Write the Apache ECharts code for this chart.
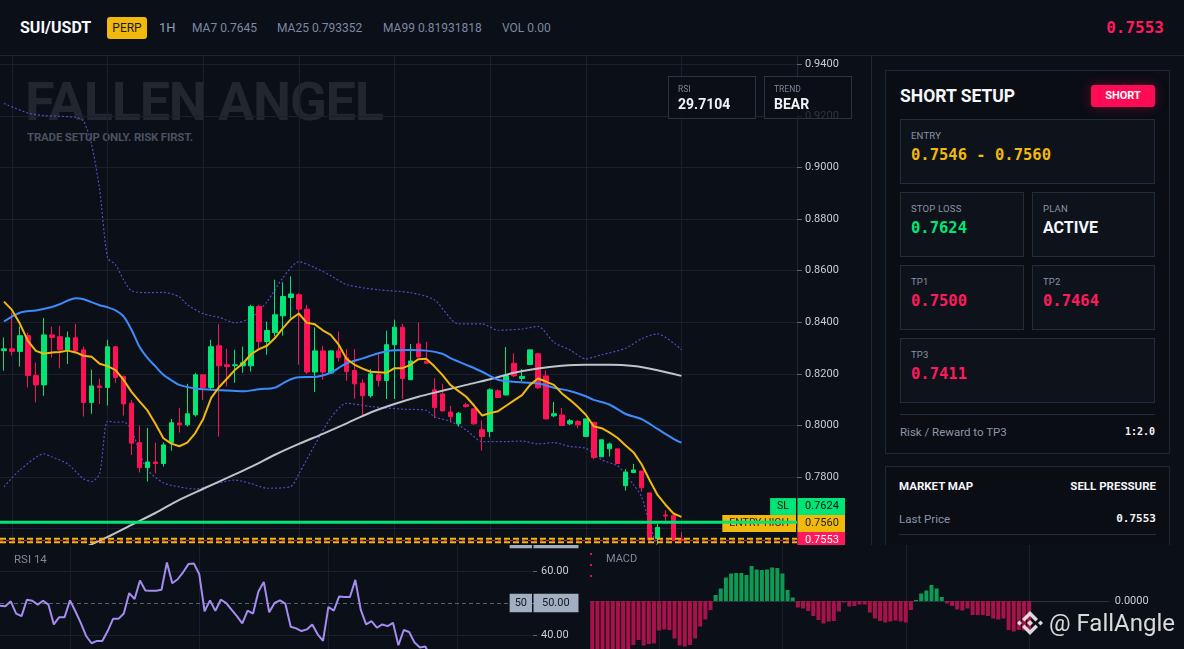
<!DOCTYPE html>
<html>
<head>
<meta charset="utf-8">
<title>SUI/USDT</title>
<script src="https://cdn.jsdelivr.net/npm/echarts@6.0.0/dist/echarts.min.js"></script>
<style>
*{box-sizing:border-box}
html,body{margin:0;padding:0;width:1184px;height:649px;overflow:hidden;background:#0b0f17;font-family:Roboto,'Liberation Sans',Arial,sans-serif;color:#e8ecf2}
.a{position:absolute;white-space:nowrap}
.mono{font-family:'DejaVu Sans Mono','Liberation Mono',monospace;font-weight:bold}
.lbl{font-size:9.5px;line-height:14px;color:#8a94a6;letter-spacing:.2px}
.box{position:absolute;border:1px solid #232c3b;background:#0d121b}
.hm{font-size:12px;line-height:20px;top:17.5px;color:#7b89a2}
.val{font-size:15.5px;line-height:20px}
</style>
</head>
<body>
<!-- header -->
<div class="a" style="left:0;top:0;width:1184px;height:56px;border-bottom:1px solid #1e2533;background:#0b0f17;z-index:5">
  <span class="a" style="left:20px;top:17.5px;line-height:20px;font-size:16px;font-weight:bold;color:#f7f9fc">SUI/USDT</span>
  <span class="a" style="left:107px;top:17px;width:40px;height:22px;line-height:22px;text-align:center;background:#f0b90b;border-radius:3px;font-size:12px;color:#1a1c22">PERP</span>
  <span class="a" style="left:159px;top:17.5px;line-height:20px;font-size:13px;color:#8fa0bd">1H</span>
  <span class="a hm" style="left:192px">MA7 0.7645</span>
  <span class="a hm" style="left:277px">MA25 0.793352</span>
  <span class="a hm" style="left:383px">MA99 0.81931818</span>
  <span class="a hm" style="left:502px">VOL 0.00</span>
  <span class="a mono" style="right:20px;top:18px;line-height:20px;font-size:16px;color:#ff1a5e">0.7553</span>
</div>

<!-- main chart -->
<div class="a" style="left:0;top:56px;width:872px;height:489px;overflow:hidden;border-right:1px solid #1e2533">
  <div class="a" style="left:25px;top:19px;font-size:54px;line-height:54px;font-weight:bold;color:#22272f;letter-spacing:-1.2px">FALLEN ANGEL</div>
  <div class="a" style="left:27px;top:74px;font-size:11.5px;line-height:14px;font-weight:bold;color:#4a5160;letter-spacing:-0.2px">TRADE SETUP ONLY. RISK FIRST.</div>
  <div id="main" class="a" style="left:0;top:-43px;width:871px;height:567px"></div>
</div>

<!-- stat boxes -->
<div class="a" style="left:668px;top:76px;width:88px;height:43px;border:1px solid #2a3344;background:rgba(11,15,23,0.82);z-index:3">
  <span class="a" style="left:9px;top:7px;font-size:8.5px;line-height:10px;color:#7b8595">RSI</span>
  <span class="a" style="left:9px;top:18px;font-size:14px;line-height:18px;font-weight:bold;color:#eef1f6">29.7104</span>
</div>
<div class="a" style="left:764px;top:76px;width:88px;height:43px;border:1px solid #2a3344;background:rgba(11,15,23,0.82);z-index:3">
  <span class="a" style="left:9px;top:7px;font-size:8.5px;line-height:10px;color:#7b8595">TREND</span>
  <span class="a" style="left:9px;top:18px;font-size:14px;line-height:18px;font-weight:bold;color:#eef1f6">BEAR</span>
</div>

<!-- right panel -->
<div class="a" style="left:885px;top:70px;width:285px;height:384px;border:1px solid #1f2836;background:#0a0d14"></div>
<div class="a" style="left:900px;top:86px;font-size:17.5px;line-height:20px;font-weight:bold;color:#f5f7fb">SHORT SETUP</div>
<div class="a" style="left:1091px;top:85px;width:64px;height:22px;line-height:22px;text-align:center;background:#ff0a54;border-radius:3px;font-size:11px;font-weight:bold;color:#fff;box-shadow:0 0 12px rgba(255,10,84,.35)">SHORT</div>

<div class="box" style="left:900px;top:119px;width:255px;height:65px"></div>
<div class="a lbl" style="left:911px;top:128.5px">ENTRY</div>
<div class="a mono val" style="left:911px;top:145px;color:#f0b90b">0.7546 - 0.7560</div>

<div class="box" style="left:900px;top:192px;width:124px;height:65px"></div>
<div class="a lbl" style="left:911px;top:201.5px">STOP LOSS</div>
<div class="a mono val" style="left:911px;top:218px;color:#00e676">0.7624</div>
<div class="box" style="left:1032px;top:192px;width:123px;height:65px"></div>
<div class="a lbl" style="left:1043px;top:201.5px">PLAN</div>
<div class="a" style="left:1043px;top:218px;font-size:16px;line-height:20px;font-weight:bold;color:#f3f5f9">ACTIVE</div>

<div class="box" style="left:900px;top:265px;width:124px;height:65px"></div>
<div class="a lbl" style="left:911px;top:274.5px">TP1</div>
<div class="a mono val" style="left:911px;top:291px;color:#ff1a5e">0.7500</div>
<div class="box" style="left:1032px;top:265px;width:123px;height:65px"></div>
<div class="a lbl" style="left:1043px;top:274.5px">TP2</div>
<div class="a mono val" style="left:1043px;top:291px;color:#ff1a5e">0.7464</div>

<div class="box" style="left:900px;top:338px;width:255px;height:65px"></div>
<div class="a lbl" style="left:911px;top:347.5px">TP3</div>
<div class="a mono val" style="left:911px;top:364px;color:#ff1a5e">0.7411</div>

<div class="a" style="left:900px;top:414px;width:255px;height:1px;background:#232c3b"></div>
<div class="a" style="left:900px;top:424px;font-size:11.5px;line-height:16px;color:#8b96a8">Risk / Reward to TP3</div>
<div class="a mono" style="right:29px;top:424px;font-size:10px;line-height:16px;color:#f1f3f7">1:2.0</div>

<div class="a" style="left:885px;top:466px;width:285px;height:110px;border:1px solid #1f2836;background:#0a0d14"></div>
<div class="a" style="left:899px;top:478px;font-size:11.5px;line-height:16px;font-weight:bold;color:#f3f5f9">MARKET MAP</div>
<div class="a" style="right:28px;top:478px;font-size:11.5px;line-height:16px;font-weight:bold;color:#f3f5f9">SELL PRESSURE</div>
<div class="a" style="left:899px;top:510.5px;font-size:11.5px;line-height:16px;color:#8b96a8">Last Price</div>
<div class="a mono" style="right:28px;top:510.5px;font-size:11px;line-height:16px;color:#f1f3f7">0.7553</div>
<div class="a" style="left:899px;top:534px;width:257px;height:1px;background:#232c3b"></div>

<!-- lower panels -->
<div class="a" style="left:0;top:545px;width:586px;height:104px;overflow:hidden;background:#0b0f17;z-index:4">
  <div id="rsi" class="a" style="left:0;top:-6px;width:586px;height:128px"></div>
</div>
<div class="a" style="left:14px;top:552px;font-size:11.5px;line-height:14px;color:#7f8898;z-index:6">RSI 14</div>

<div class="a" style="left:585px;top:545px;width:599px;height:104px;overflow:hidden;background:#0b0f17;z-index:4">
  <div id="macd" class="a" style="left:0;top:0;width:599px;height:104px"></div>
</div>
<div class="a" style="left:606px;top:552px;font-size:11px;line-height:14px;color:#7f8898;z-index:6">MACD</div>
<div class="a" style="left:590px;top:553px;width:2px;height:26px;background:repeating-linear-gradient(to bottom,#d8185a 0 2px,transparent 2px 11px);z-index:6"></div>

<!-- signature -->
<svg class="a" style="left:1016px;top:609px;z-index:7" width="28" height="28" viewBox="0 0 28 28">
  <g fill="rgba(236,236,236,0.92)">
    <polygon points="14,2 22,10 19.5,12.5 14,7 8.5,12.5 6,10"/>
    <polygon points="14,26 22,18 19.5,15.5 14,21 8.5,15.5 6,18"/>
    <polygon points="3.5,11.5 6,14 3.5,16.5 1,14"/>
    <polygon points="24.5,11.5 27,14 24.5,16.5 22,14"/>
    <polygon points="14,11 17,14 14,17 11,14"/>
  </g>
</svg>
<div class="a" style="left:1049px;top:609px;font-size:24px;line-height:28px;color:rgba(236,236,236,0.92);z-index:7">@ FallAngle</div>

<script>
// ================= DATA =================
// candles: [open, close, low, high]
const ohlc = [
 [0.8290,0.8297,0.8212,0.8341],[0.8297,0.8287,0.8271,0.8437],[0.8287,0.8348,0.8228,0.8384],[0.8348,0.8193,0.8147,0.8359],
 [0.8193,0.8157,0.8089,0.8244],[0.8157,0.8351,0.8115,0.8417],[0.8351,0.8341,0.8263,0.8383],[0.8344,0.8293,0.8221,0.8386],
 [0.8293,0.8340,0.8238,0.8364],[0.8340,0.8289,0.8287,0.8394],[0.8293,0.8089,0.8034,0.8306],[0.8089,0.8153,0.8045,0.8216],
 [0.8153,0.8147,0.8083,0.8181],[0.8147,0.8305,0.8077,0.8332],[0.8305,0.8186,0.8165,0.8308],[0.8190,0.8083,0.8038,0.8193],
 [0.8086,0.7931,0.7885,0.8099],[0.7933,0.7836,0.7817,0.7999],[0.7836,0.7858,0.7782,0.7990],[0.7858,0.7852,0.7814,0.7933],
 [0.7852,0.7924,0.7840,0.7934],[0.7933,0.8010,0.7902,0.8025],[0.8009,0.8002,0.7972,0.8068],[0.8002,0.8045,0.7995,0.8161],
 [0.8041,0.8196,0.8034,0.8204],[0.8196,0.8147,0.8099,0.8198],[0.8147,0.8305,0.8138,0.8332],[0.8309,0.8231,0.7956,0.8394],
 [0.8235,0.8228,0.8151,0.8297],[0.8232,0.8235,0.8165,0.8293],[0.8231,0.8243,0.8204,0.8305],[0.8231,0.8461,0.8209,0.8468],
 [0.8461,0.8325,0.8297,0.8468],[0.8325,0.8368,0.8274,0.8403],[0.8360,0.8429,0.8345,0.8565],[0.8425,0.8500,0.8348,0.8555],
 [0.8496,0.8510,0.8416,0.8578],[0.8507,0.8451,0.8235,0.8513],[0.8451,0.8207,0.8200,0.8468],[0.8207,0.8289,0.8129,0.8380],
 [0.8289,0.8207,0.8177,0.8308],[0.8203,0.8289,0.8201,0.8291],[0.8289,0.8263,0.8248,0.8364],[0.8263,0.8209,0.8173,0.8296],
 [0.8213,0.8161,0.8103,0.8296],[0.8164,0.8115,0.8037,0.8179],[0.8115,0.8200,0.8108,0.8218],[0.8196,0.8174,0.8151,0.8280],
 [0.8174,0.8313,0.8102,0.8367],[0.8313,0.8381,0.8102,0.8410],[0.8381,0.8182,0.8102,0.8394],[0.8177,0.8250,0.8177,0.8316],
 [0.8316,0.8265,0.8265,0.8399],[0.8249,0.8241,0.8241,0.8324],[0.8138,0.8069,0.8028,0.8183],[0.8122,0.8056,0.8054,0.8161],
 [0.8052,0.8034,0.8011,0.8076],[0.8006,0.8047,0.7995,0.8052],[0.8080,0.8073,0.8069,0.8088],[0.8064,0.8006,0.8002,0.8064],
 [0.7983,0.7957,0.7902,0.8019],[0.7976,0.8138,0.7954,0.8144],[0.8134,0.8108,0.8108,0.8140],[0.8118,0.8193,0.8118,0.8304],
 [0.8241,0.8192,0.8187,0.8280],[0.8182,0.8190,0.8172,0.8218],[0.8236,0.8293,0.8236,0.8293],[0.8278,0.8146,0.8141,0.8278],
 [0.8192,0.8025,0.8024,0.8213],[0.8037,0.8045,0.8032,0.8091],[0.8040,0.7999,0.7999,0.8068],[0.8006,0.8018,0.8001,0.8025],
 [0.8015,0.8002,0.7989,0.8021],[0.7957,0.8025,0.7957,0.8025],[0.8012,0.7875,0.7869,0.8012],[0.7878,0.7944,0.7878,0.7944],
 [0.7909,0.7928,0.7879,0.7933],[0.7909,0.7852,0.7852,0.7909],[0.7766,0.7819,0.7747,0.7830],[0.7817,0.7827,0.7817,0.7850],
 [0.7823,0.7758,0.7743,0.7823],[0.7738,0.7557,0.7545,0.7738],[0.7560,0.7604,0.7540,0.7617],[0.7652,0.7648,0.7620,0.7671],
 [0.7650,0.7555,0.7553,0.7650],[0.7559,0.7553,0.7545,0.7586]
];
const ma7 = [
 0.8480,0.8448,0.8394,0.8328,0.8289,0.8278,0.8283,0.8285,0.8290,0.8283,
 0.8270,0.8266,0.8239,0.8230,0.8214,0.8177,0.8130,0.8093,0.8058,0.8006,
 0.7950,0.7929,0.7919,0.7933,0.7970,0.8025,0.8107,0.8149,0.8182,0.8216,
 0.8241,0.8276,0.8296,0.8309,0.8339,0.8377,0.8412,0.8434,0.8398,0.8392,
 0.8369,0.8351,0.8313,0.8257,0.8235,0.8220,0.8208,0.8206,0.8204,0.8222,
 0.8222,0.8235,0.8257,0.8258,0.8229,0.8196,0.8157,0.8134,0.8111,0.8076,
 0.8038,0.8048,0.8055,0.8076,0.8097,0.8117,0.8157,0.8182,0.8170,0.8157,
 0.8124,0.8099,0.8072,0.8041,0.7996,0.7989,0.7972,0.7951,0.7922,0.7895,
 0.7849,0.7788,0.7730,0.7692,0.7658,0.7645
];
// [candle index, value]
const ma25Pts = [[0,0.8403],[2,0.8437],[4,0.8446],[6,0.8459],[7,0.8470],[9,0.8493],[10,0.8489],[12,0.8466],[13,0.8458],[14,0.8446],
 [15,0.8423],[16,0.8371],[17,0.8305],[18,0.8262],[19,0.8229],[20,0.8196],[21,0.8175],[22,0.8157],[24,0.8143],[26,0.8138],
 [28,0.8135],[30,0.8132],[32,0.8140],[34,0.8146],[35,0.8163],[36,0.8179],[37,0.8187],[39,0.8188],[41,0.8204],[42,0.8223],
 [43,0.8241],[45,0.8260],[47,0.8280],[49,0.8291],[51,0.8292],[53,0.8290],[55,0.8278],[56,0.8261],[58,0.8235],[60,0.8208],
 [62,0.8177],[64,0.8169],[67,0.8162],[69,0.8146],[71,0.8133],[73,0.8113],[74,0.8099],[76,0.8080],[78,0.8044],[80,0.8024],
 [82,0.7986],[84,0.7948],[85,0.7933]];
const ma99Pts = [[10,0.7524],[13,0.7567],[16,0.7614],[19,0.7660],[22,0.7711],[25,0.7754],[28,0.7796],[31,0.7839],[34,0.7886],
 [37,0.7928],[40,0.7967],[43,0.8008],[46,0.8050],[49,0.8083],[52,0.8111],[55,0.8134],[58,0.8157],[61,0.8179],[64,0.8204],
 [67,0.8221],[70,0.8231],[73,0.8235],[76,0.8235],[79,0.8230],[82,0.8214],[85,0.8192]];
const bbUpperPts = [[0,0.9249],[3,0.9212],[5,0.9202],[9,0.9195],[10,0.9180],[11,0.9089],[12,0.8915],[13,0.8650],[14,0.8623],
 [15,0.8565],[16,0.8522],[18,0.8515],[20,0.8516],[22,0.8499],[23,0.8468],[25,0.8433],[27,0.8419],[29,0.8398],[31,0.8417],
 [33,0.8480],[35,0.8573],[37,0.8635],[39,0.8612],[41,0.8581],[43,0.8546],[47,0.8526],[51,0.8515],[54,0.8487],[57,0.8394],
 [60,0.8394],[62,0.8369],[65,0.8374],[67,0.8384],[69,0.8322],[71,0.8293],[73,0.8258],[75,0.8274],[78,0.8299],[80,0.8336],
 [82,0.8355],[84,0.8320],[85,0.8293]];
const bbLowerPts = [[0,0.7761],[1,0.7796],[2,0.7827],[5,0.7889],[6,0.7878],[8,0.7850],[10,0.7792],[11,0.7782],[12,0.7812],
 [13,0.8017],[14,0.8012],[15,0.8014],[16,0.7982],[17,0.7897],[18,0.7827],[20,0.7777],[22,0.7761],[24,0.7753],[27,0.7777],
 [29,0.7788],[31,0.7774],[33,0.7756],[36,0.7763],[37,0.7812],[39,0.7924],[41,0.8029],[43,0.8086],[46,0.8073],[50,0.8063],
 [53,0.8058],[54,0.8033],[56,0.8016],[58,0.7982],[60,0.7937],[63,0.7937],[65,0.7939],[67,0.7928],[69,0.7933],[71,0.7918],
 [73,0.7911],[75,0.7866],[77,0.7843],[78,0.7808],[79,0.7769],[80,0.7723],[81,0.7617],[82,0.7528],[83,0.7478],[85,0.7420]];
const rsi14 = [
 49.18,48.97,50.52,46.70,45.88,51.03,50.72,49.48,50.72,49.48,
 43.30,45.57,45.57,50.82,47.42,43.81,39.69,37.42,38.14,38.14,
 41.24,45.05,45.05,46.70,53.09,51.24,57.01,53.92,53.81,53.81,
 54.12,62.68,56.19,57.42,59.59,62.16,62.37,59.07,47.42,50.82,
 47.53,51.03,50.00,47.94,45.88,43.61,47.63,46.70,53.61,56.60,
 47.11,50.00,50.82,49.79,42.58,42.06,41.24,41.75,43.30,40.21,
 38.14,48.76,47.63,52.06,51.86,51.86,57.22,47.94,43.30,44.33,
 42.27,43.30,42.78,43.81,36.80,41.55,40.93,37.63,36.08,36.39,
 33.10,30.20,32.40,33.00,30.60,29.71
];
const macdHist = [
 -0.00116,-0.00120,-0.00122,-0.00120,-0.00114,-0.00110,-0.00104,-0.00100,-0.00088,-0.00078,
 -0.00089,-0.00086,-0.00085,-0.00059,-0.00057,-0.00058,-0.00075,-0.00089,-0.00091,-0.00088,
 -0.00075,-0.00051,-0.00037,-0.00018,0.00012,0.00025,0.00047,0.00055,0.00056,0.00056,
 0.00052,0.00070,0.00063,0.00062,0.00063,0.00067,0.00066,0.00055,0.00022,0.00007,
 -0.00013,-0.00015,-0.00020,-0.00030,-0.00038,-0.00045,-0.00041,-0.00040,-0.00021,-0.00003,
 -0.00011,-0.00010,-0.00007,-0.00007,-0.00023,-0.00035,-0.00040,-0.00043,-0.00041,-0.00039,
 -0.00041,-0.00043,-0.00018,0.00002,0.00015,0.00021,0.00032,0.00025,0.00008,-0.00005,
 -0.00010,-0.00017,-0.00019,-0.00015,-0.00028,-0.00028,-0.00028,-0.00030,-0.00035,-0.00037,
 -0.00035,-0.00058,-0.00061,-0.00058,-0.00059,-0.00058
];
const PRICE_MIN = 0.74, PRICE_MAX = 0.96, PRICE_STEP = 0.02;
const RSI_MIN = 30, RSI_MAX = 70, RSI_STEP = 10;
const RSI_LEVELS = [30, 50, 70];
const MACD_MIN = -0.00096, MACD_MAX = 0.00112, MACD_STEP = 0.00048;
const stopLoss = 0.7624, entryHigh = 0.7560, entryLow = 0.7546, lastPrice = 0.7553;

// ================= STYLE / LAYOUT =================
const UP = '#00e676', DOWN = '#ff1155', YEL = '#f0b90b', PINK = '#ff1a5e';
const GRID_C = '#1a202b', AX_TXT = '#c7ced8', TICK_C = '#5a6373';
const FONT = 'Roboto';

const measureCtx = document.createElement('canvas').getContext('2d');
function textW(t, font){ measureCtx.font = font; return measureCtx.measureText(t).width; }

// builds price-scale label boxes, stacking from the bottom label upward
function buildLabels(chart, axisX, items, o){
  const els = []; let prevTop = Infinity;
  items.forEach(it => {
    const ny = chart.convertToPixel({yAxisIndex:0}, it.value);
    const cy = Math.min(ny, prevTop - o.h/2);
    const top = cy - o.h/2; prevTop = top;
    els.push({type:'rect', z:7, silent:true, shape:{x:axisX+0.5, y:top, width:o.vw, height:o.h}, style:{fill:it.bg}});
    els.push({type:'text', z:8, silent:true, style:{text:it.value.toFixed(o.dec), x:axisX+o.vpad, y:cy, fill:it.fg, font:o.font, align:'left', verticalAlign:'middle'}});
    if (it.title){
      const w = textW(it.title, o.tfont) + 2*o.tpad;
      els.push({type:'rect', z:1, silent:true, shape:{x:axisX-1-w, y:top, width:w, height:o.h}, style:{fill:it.bg}});
      els.push({type:'text', z:1, silent:true, style:{text:it.title, x:axisX-1-w+o.tpad, y:cy, fill:it.fg, font:o.tfont, align:'left', verticalAlign:'middle'}});
    }
  });
  return els;
}
// horizontal price lines across the plot, positioned through the y axis scale
function buildPriceLines(chart, axisX, lines){
  return lines.map(l => {
    const y = chart.convertToPixel({yAxisIndex:0}, l.value);
    return {type:'line', z:5, silent:true, shape:{x1:0, y1:y, x2:axisX, y2:y},
      style:{stroke:l.color, lineWidth:l.width, lineDash:l.dash || null}};
  });
}

const n = ohlc.length;
const vGridMain = []; for (let i = 1; i < n; i += 12) vGridMain.push(i);
const vGridSub = []; for (let i = 13; i < n; i += 24) vGridSub.push(i);
const vLine = i => ({xAxis:i, lineStyle:{color:GRID_C, type:'solid', width:1}});

// ---------------- main price chart ----------------
const MAIN_W = 871, MAIN_H = 567, MAIN_GR = 74, MAIN_SLOTS = 100;
const mc = echarts.init(document.getElementById('main'), null, {width:MAIN_W, height:MAIN_H});
const mainCats = Array.from({length:MAIN_SLOTS}, (_, i) => 'c' + i);
const lineS = (data, color, width, extra) => Object.assign({type:'line', data, symbol:'none', showSymbol:false, silent:true,
  lineStyle:{color, width}, z:3}, extra || {});
mc.setOption({
  animation:false,
  backgroundColor:'transparent',
  grid:{left:0, right:MAIN_GR, top:0, bottom:0, containLabel:false, outerBoundsMode:'none'},
  xAxis:{type:'category', data:mainCats, boundaryGap:true, axisLine:{show:false}, axisTick:{show:false}, axisLabel:{show:false}, splitLine:{show:false}},
  yAxis:{type:'value', position:'right', min:PRICE_MIN, max:PRICE_MAX, interval:PRICE_STEP,
    axisLine:{show:true, lineStyle:{color:'#232a36'}},
    axisTick:{show:true, length:5, lineStyle:{color:TICK_C}},
    axisLabel:{color:AX_TXT, fontSize:11, fontFamily:FONT, margin:8, formatter:v => v.toFixed(4)},
    splitLine:{show:true, lineStyle:{color:GRID_C, width:1}}},
  series:[
    lineS(bbUpperPts, '#5a46c8', 1.2, {z:1, smooth:0.25, lineStyle:{color:'#5a46c8', width:1.2, type:[2,2]},
      markLine:{symbol:'none', silent:true, z:1, animation:false, label:{show:false}, data:vGridMain.map(vLine)}}),
    lineS(bbLowerPts, '#5a46c8', 1.2, {z:1, smooth:0.25, lineStyle:{color:'#5a46c8', width:1.2, type:[2,2]}}),
    {type:'candlestick', data:ohlc, z:2, barWidth:5, silent:true,
      itemStyle:{color:UP, color0:DOWN, borderColor:UP, borderColor0:DOWN, borderWidth:1}},
    lineS(ma99Pts, '#bfc3cc', 2, {smooth:0.3}),
    lineS(ma25Pts, '#3d8bfd', 2, {smooth:0.3}),
    lineS(ma7, YEL, 2)
  ]
});
const mainAxisX = MAIN_W - MAIN_GR;
mc.setOption({graphic:{elements: buildPriceLines(mc, mainAxisX, [
    {value:stopLoss, color:UP, width:3},
    {value:entryHigh, color:YEL, width:2, dash:[6,3]},
    {value:entryLow, color:YEL, width:2, dash:[6,3]},
    {value:lastPrice, color:PINK, width:1, dash:[3,3]}
  ]).concat(buildLabels(mc, mainAxisX, [
    {value:lastPrice, bg:PINK, fg:'#ffffff'},
    {value:entryHigh, title:'ENTRY HIGH', bg:YEL, fg:'#1b1e25'},
    {value:stopLoss, title:'SL', bg:UP, fg:'#0b0f17'}
  ], {h:17, vw:47.5, vpad:8, dec:4, font:'11px '+FONT, tfont:'10.5px '+FONT, tpad:7}))}});

// ---------------- RSI panel ----------------
const RSI_W = 586, RSI_H = 128, RSI_GR = 53, RSI_SLOTS = 100;
const rc = echarts.init(document.getElementById('rsi'), null, {width:RSI_W, height:RSI_H});
rc.setOption({
  animation:false,
  grid:{left:0, right:RSI_GR, top:0, bottom:0, containLabel:false, outerBoundsMode:'none'},
  xAxis:{type:'category', data:Array.from({length:RSI_SLOTS}, (_, i) => 'r' + i), boundaryGap:false,
    axisLine:{show:false}, axisTick:{show:false}, axisLabel:{show:false}, splitLine:{show:false}},
  yAxis:{type:'value', position:'right', min:RSI_MIN, max:RSI_MAX, interval:RSI_STEP,
    axisLine:{show:false}, axisTick:{show:true, length:4, lineStyle:{color:TICK_C}},
    axisLabel:{color:AX_TXT, fontSize:11, fontFamily:FONT, margin:8, formatter:v => v.toFixed(2)},
    splitLine:{show:true, lineStyle:{color:[GRID_C, GRID_C, 'transparent', GRID_C, GRID_C]}}},
  series:[
    {type:'line', data:[], silent:true, markLine:{symbol:'none', silent:true, z:1, animation:false, label:{show:false},
      data:vGridSub.map(vLine).concat(RSI_LEVELS.map(v => ({yAxis:v, lineStyle:{color:'#596170', type:[4,3], width:1}})))}},
    {type:'line', data:rsi14, z:2, symbol:'none', showSymbol:false, silent:true, lineStyle:{color:'#a58cf0', width:2}}
  ]
});
rc.setOption({graphic:{elements: buildLabels(rc, RSI_W - RSI_GR, RSI_LEVELS.map(v => ({value:v, title:String(v), bg:'#a2afc2', fg:'#131820'})),
  {h:18.5, vw:45, vpad:9, dec:2, font:'11px '+FONT, tfont:'11px '+FONT, tpad:5})}});

// ---------------- MACD panel ----------------
const MACD_W = 599, MACD_H = 104, MACD_SLOTS = 101;
const xc = echarts.init(document.getElementById('macd'), null, {width:MACD_W, height:MACD_H});
xc.setOption({
  animation:false,
  grid:{left:4.7, right:75.2, top:0, bottom:0, containLabel:false, outerBoundsMode:'none'},
  xAxis:{type:'category', data:Array.from({length:MACD_SLOTS}, (_, i) => 'm' + i), boundaryGap:true,
    axisLine:{show:false}, axisTick:{show:false}, axisLabel:{show:false}, splitLine:{show:false}},
  yAxis:{type:'value', position:'right', min:MACD_MIN, max:MACD_MAX, interval:MACD_STEP,
    axisLine:{show:false}, axisTick:{show:false}, splitLine:{show:false},
    axisLabel:{color:AX_TXT, fontSize:11, fontFamily:FONT, margin:6, formatter:v => Math.abs(v) < 1e-12 ? '0.0000' : ''}},
  series:[
    {type:'bar', data:macdHist, barWidth:4, silent:true, z:2,
      itemStyle:{color:p => p.value >= 0 ? '#0c9a55' : '#a8124b'},
      markLine:{symbol:'none', silent:true, z:1, animation:false, label:{show:false},
        data:vGridSub.map(vLine).concat([{yAxis:0, lineStyle:{color:'#2b3240', type:'solid', width:1}}])}}
  ]
});
</script>
</body>
</html>
